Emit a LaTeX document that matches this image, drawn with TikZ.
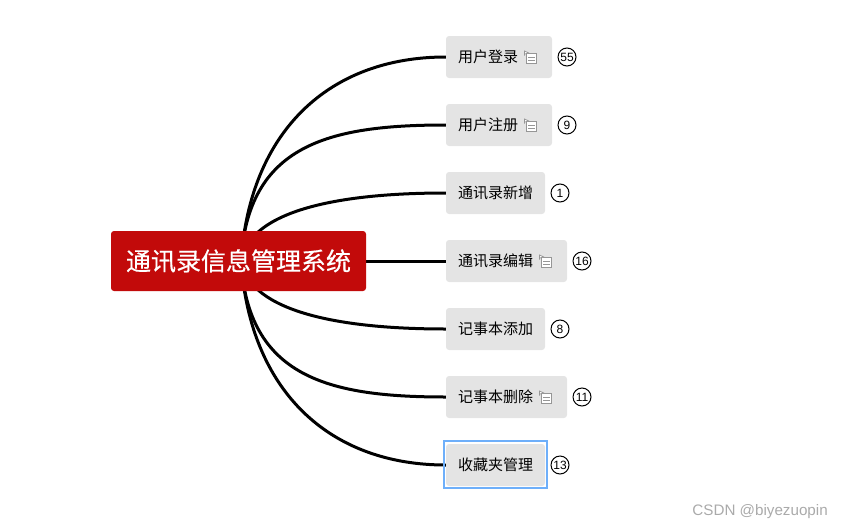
\documentclass[tikz,border=0pt]{standalone}
\usepackage{fontspec}
\setmainfont{Liberation Sans}
\newfontfamily\cjkroot[FakeBold=0.5]{Noto Sans CJK SC}
\newfontfamily\cjktopic{Noto Sans CJK SC}
\usetikzlibrary{backgrounds}
\definecolor{rootred}{RGB}{194,10,10}
\definecolor{topicgray}{RGB}{228,228,228}
\definecolor{selblue}{RGB}{110,175,250}
\definecolor{icongray}{RGB}{150,150,150}
\definecolor{markgray}{RGB}{170,170,170}
\newcommand{\topictext}[1]{\raisebox{-0.7pt}{#1}}
\tikzset{
  rootbox/.style={fill=rootred,rounded corners=3pt,minimum width=255pt,minimum height=60pt,inner sep=0pt,text=white,font=\cjkroot\fontsize{25}{25}\selectfont,anchor=center},
  topicbox/.style={fill=topicgray,rounded corners=3pt,minimum height=42pt,inner sep=0pt,anchor=center,font=\cjktopic\fontsize{15}{15}\selectfont,text=black},
  countmark/.style={draw=black,circle,line width=1pt,minimum size=18pt,inner sep=0pt,font=\fontsize{12}{12}\selectfont,text=black},
  branch/.style={line width=3pt,draw=black},
  selectbox/.style={draw=selblue,line width=2pt,minimum width=103pt,minimum height=47pt,inner sep=0pt},
  noteicon/.pic={
    \draw[draw=icongray,line width=0.9pt,fill=white] (-4.5,-5) -- (6,-5) -- (6,5.5) -- (-4.5,5.5) -- cycle;
    \draw[draw=icongray,line width=0.8pt] (-2.5,-1) -- (4,-1) (-2.5,2.5) -- (4,2.5);
    \draw[draw=icongray,line width=0.7pt,fill=white] (-6,-2.5) -- (-6,-7) -- (-2,-5.2) -- (-6,-3.8);
  }
}
\begin{document}
\begin{tikzpicture}[x=1pt,y=-1pt]
\useasboundingbox (0,0) rectangle (842,530);
\node[rootbox] (root) at (238.5,261) {通讯录信息管理系统};
\coordinate (hub) at (241,261);
% topics
\node[topicbox,minimum width=106pt] (t1) at (499,57) {\hspace*{-22pt}\topictext{用户登录}};
\node[topicbox,minimum width=106pt] (t2) at (499,125) {\hspace*{-22pt}\topictext{用户注册}};
\node[topicbox,minimum width=99pt] (t3) at (495.5,193) {\topictext{通讯录新增}};
\node[topicbox,minimum width=121pt] (t4) at (506.5,261) {\hspace*{-22pt}\topictext{通讯录编辑}};
\node[topicbox,minimum width=99pt] (t5) at (495.5,329) {\topictext{记事本添加}};
\node[topicbox,minimum width=121pt] (t6) at (506.5,397) {\hspace*{-22pt}\topictext{记事本删除}};
\node[topicbox,minimum width=99pt] (t7) at (495.5,465) {\topictext{收藏夹管理}};
\node[selectbox] (sel) at (495,464.8) {};
% note icons
\pic at (530.5,58) {noteicon};
\pic at (530.5,126) {noteicon};
\pic at (545.5,262) {noteicon};
\pic at (545.5,398) {noteicon};
% counts
\node[countmark] (c1) at (567,57) {55};
\node[countmark] (c2) at (567,125) {9};
\node[countmark] (c3) at (560,193) {1};
\node[countmark] (c4) at (582,261) {16};
\node[countmark] (c5) at (560,329) {8};
\node[countmark] (c6) at (582,397) {11};
\node[countmark] (c7) at (560,465) {13};
% watermark
\node[anchor=east,text=markgray,inner sep=0pt,font=\fontsize{15.2}{15.2}\selectfont] (wm) at (828,512) {CSDN @biyezuopin};
\begin{scope}[on background layer]
\draw[branch] (hub) .. controls (250,130) and (330,57) .. (t1.west);
\draw[branch] (hub) .. controls (248,145) and (328,125) .. (t2.west);
\draw[branch] (hub) .. controls (250,210) and (340,193) .. (t3.west);
\draw[branch] (hub) -- (t4.west);
\draw[branch] (hub) .. controls (250,312) and (340,329) .. (t5.west);
\draw[branch] (hub) .. controls (248,377) and (328,397) .. (t6.west);
\draw[branch] (hub) .. controls (250,392) and (330,465) .. (t7.west);
\end{scope}
\end{tikzpicture}
\end{document}
